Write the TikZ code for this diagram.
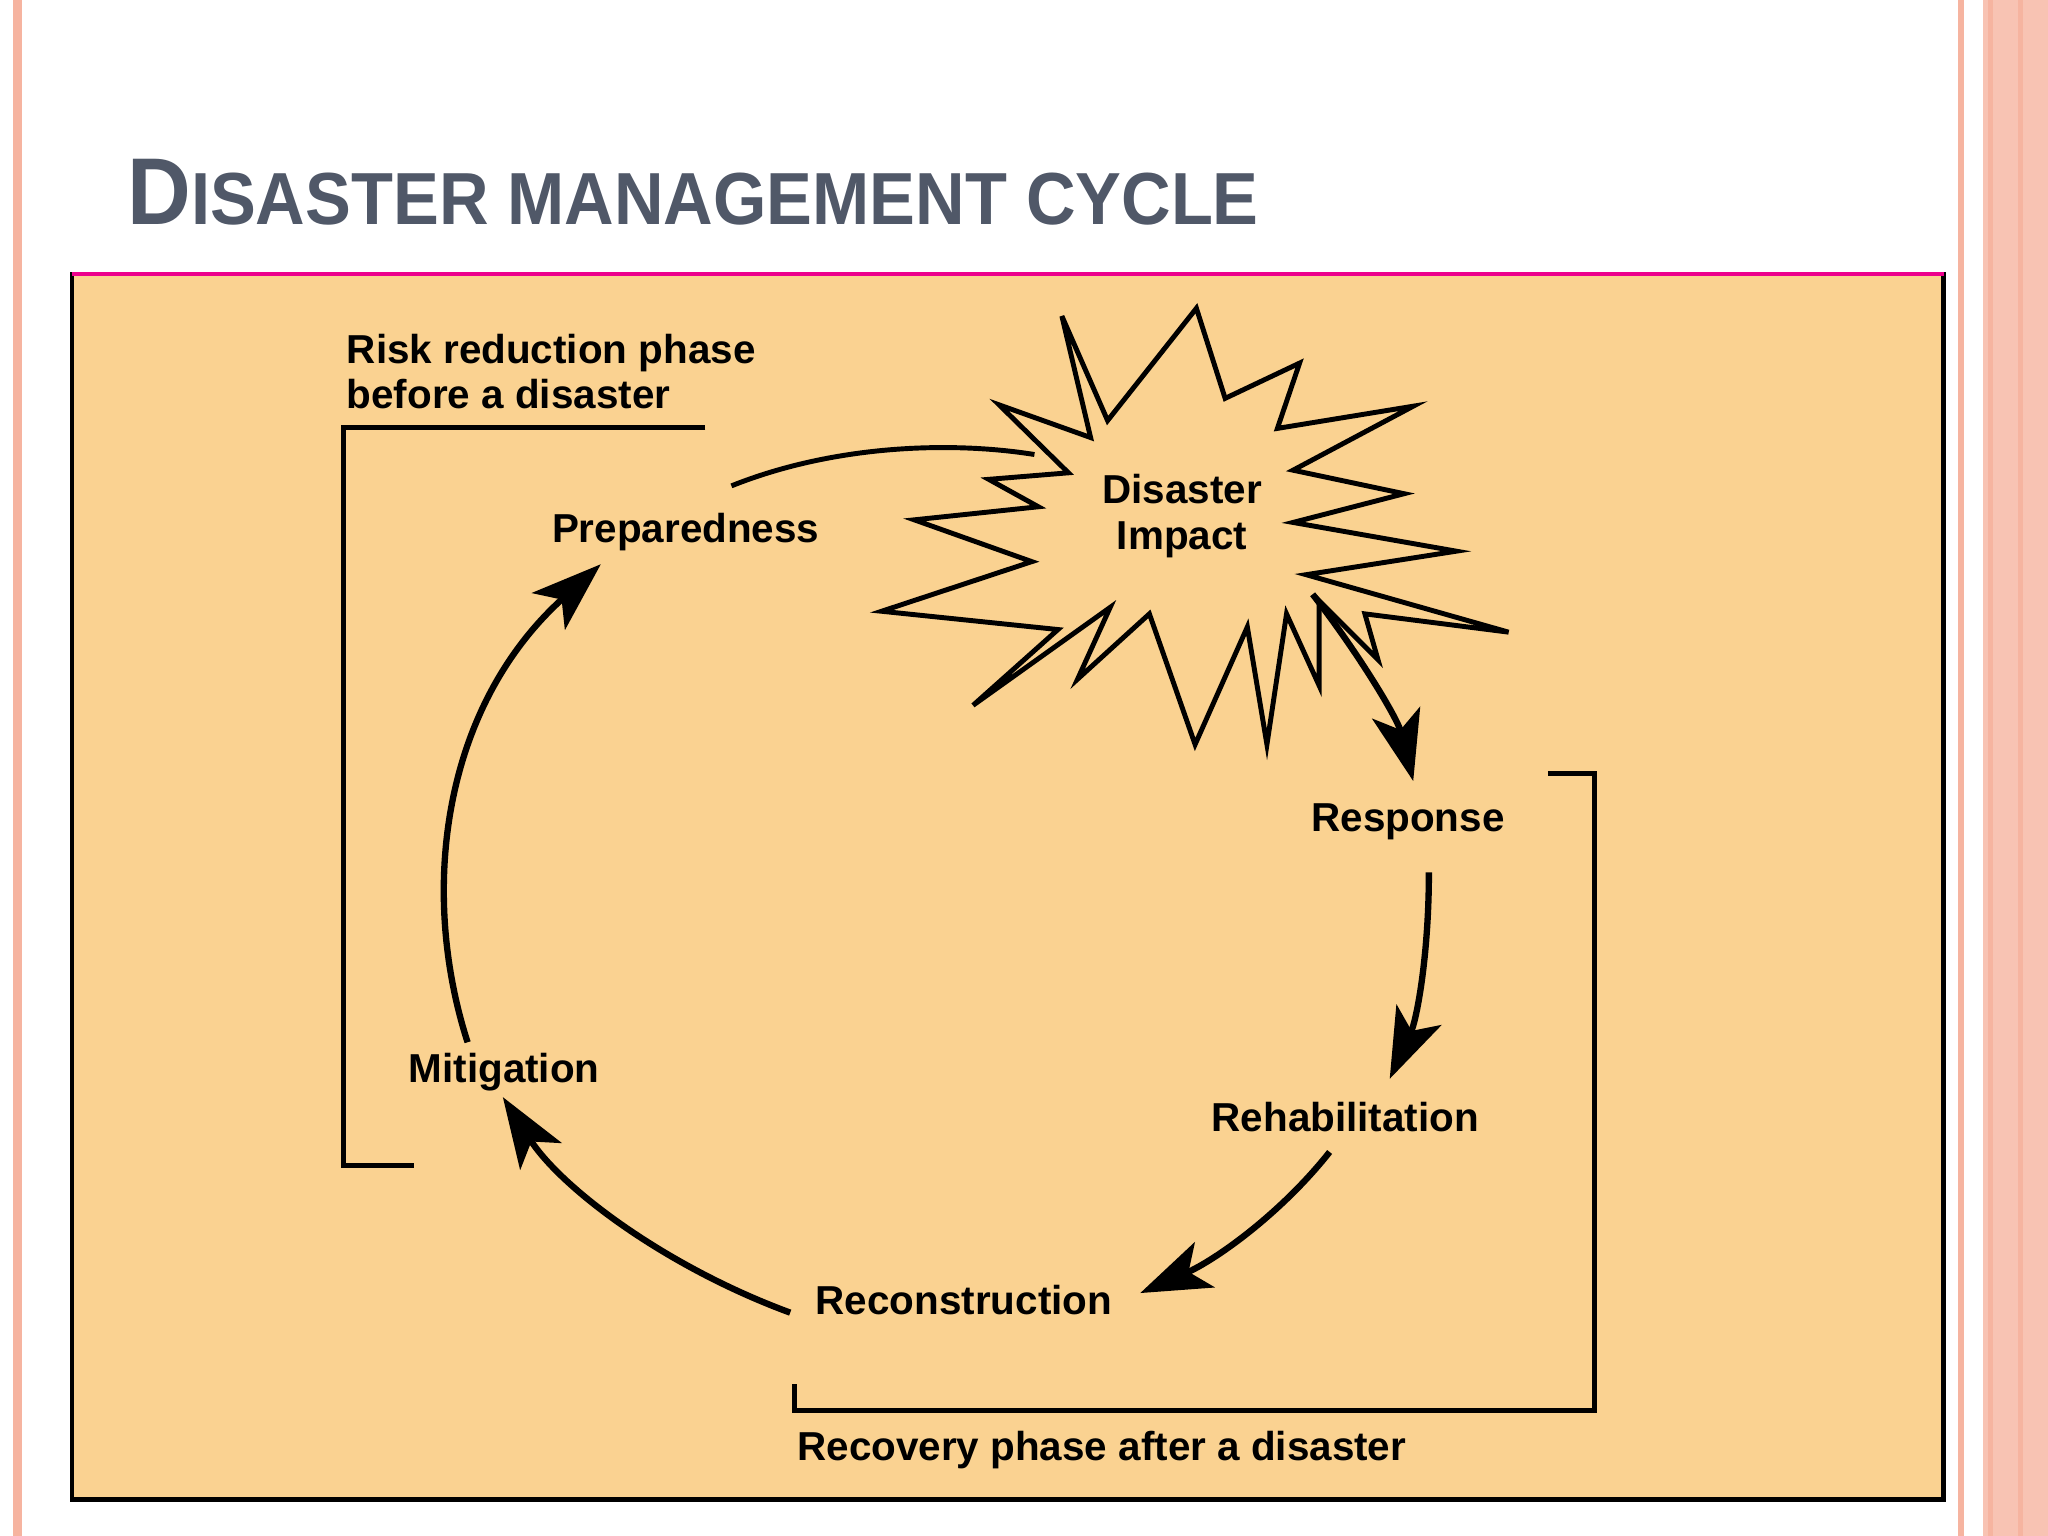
\documentclass[tikz,border=0pt]{standalone}
\usepackage{fontspec}
\setmainfont{Liberation Sans}
\usetikzlibrary{arrows.meta}
\definecolor{panel}{RGB}{250,210,145}
\definecolor{titlec}{RGB}{80,88,104}
\definecolor{pinkl}{RGB}{246,180,160}
\begin{document}
\begin{tikzpicture}[x=0.0130612cm,y=-0.0130612cm,
  lbl/.style={font=\fontsize{11.5}{13}\selectfont\bfseries, inner sep=0pt},
  arr/.style={line width=1.8pt,-{Stealth[length=20pt,width=14pt,inset=5pt]}},
  ln/.style={line width=1.4pt}]
\useasboundingbox (0,0) rectangle (1568,1176);
\fill[white] (0,0) rectangle (1568,1176);
% side stripes
\fill[pinkl] (10,0) rectangle (17,1176);
\fill[pinkl] (1499,0) rectangle (1504,1176);
\fill[pinkl!80] (1518,0) rectangle (1568,1176);
\fill[pinkl] (1522,0) rectangle (1526,1176);
\fill[pinkl] (1545,0) rectangle (1549,1176);
% title
\node[anchor=base west, text=titlec, inner sep=0pt, xscale=0.93] (title) at (97,172)
  {\fontsize{27}{30}\selectfont\bfseries D\fontsize{21}{24}\selectfont ISASTER MANAGEMENT CYCLE};
% panel
\fill[panel] (55,210) rectangle (1488,1148);
\draw[line width=1.2pt] (55,210) rectangle (1488,1148);
\draw[magenta,line width=1.2pt] (55,210) -- (1488,210);
% starburst
\draw[line width=1.4pt, fill=panel] (813,242) -- (848,322) -- (916,236) -- (938,305) -- (995,278) -- (978,328)
 -- (1082,311) -- (990,360) -- (1075,378) -- (990,400) -- (1115,422) -- (1000,440) -- (1155,484)
 -- (1045,470) -- (1055,505) -- (1010,460) -- (1010,525) -- (985,470) -- (970,570) -- (955,480)
 -- (915,570) -- (880,470) -- (825,520) -- (850,465) -- (745,540) -- (810,482) -- (675,468)
 -- (790,430) -- (700,398) -- (795,388) -- (757,367) -- (818,362) -- (765,310) -- (835,335) -- cycle;
\node[lbl, align=center] (impact) at (905,395) {Disaster\\Impact};
% labels
\node[lbl] (prep) at (525,407) {Preparedness};
\node[lbl] (resp) at (1078,629) {Response};
\node[lbl] (rehab) at (1030,855) {Rehabilitation};
\node[lbl] (recon) at (738,995) {Reconstruction};
\node[lbl] (mitig) at (386,821) {Mitigation};
\node[lbl, align=left, anchor=north west] (risk) at (265,255) {Risk reduction phase\\before a disaster};
\node[lbl, anchor=west] (recov) at (610,1110) {Recovery phase after a disaster};
% connectors
\coordinate (a1) at (560,372); \coordinate (a2) at (792,348);
\draw[ln] (a1) .. controls (640,340) and (730,338) .. (a2);
\coordinate (s1) at (1005,455); \coordinate (s2) at (1082,598);
\draw[arr] (s1) .. controls (1040,500) and (1070,550) .. (s2);
\coordinate (r1) at (1094,668); \coordinate (r2) at (1064,826);
\draw[arr] (r1) .. controls (1094,730) and (1085,780) .. (r2);
\coordinate (h1) at (1018,882); \coordinate (h2) at (873,990);
\draw[arr] (h1) .. controls (980,930) and (930,965) .. (h2);
\coordinate (c1) at (605,1005); \coordinate (c2) at (385,840);
\draw[arr] (c1) .. controls (510,970) and (430,910) .. (c2);
\coordinate (m1) at (358,798); \coordinate (m2) at (460,432);
\draw[arr] (m1) .. controls (320,680) and (340,540) .. (m2);
% brackets
\coordinate (b1) at (540,327); \coordinate (b2) at (317,892);
\draw[ln] (b1) -- (263,327) -- (263,892) -- (b2);
\coordinate (q1) at (1185,592); \coordinate (q2) at (608,1060);
\draw[ln] (q1) -- (1221,592) -- (1221,1080) -- (608,1080) -- (q2);
\end{tikzpicture}
\end{document}
